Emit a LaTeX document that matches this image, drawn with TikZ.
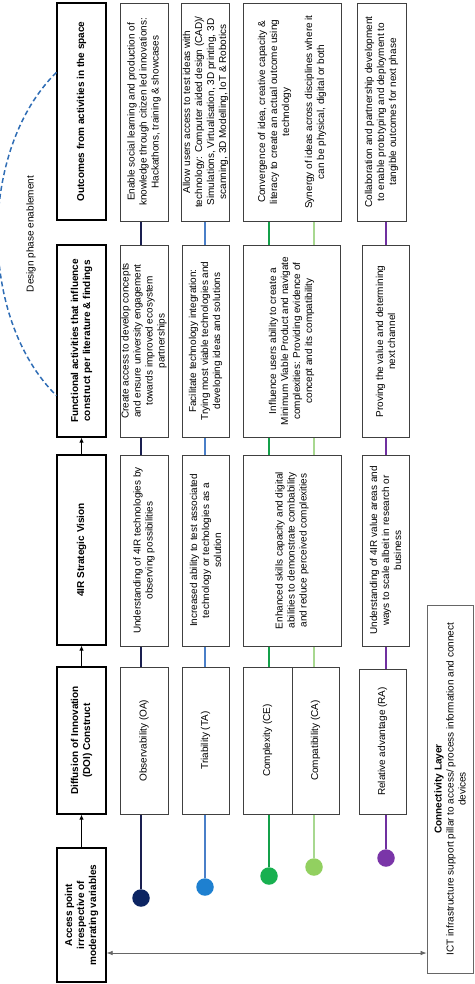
\documentclass[tikz,border=0pt]{standalone}
\usepackage{fontspec}
\setmainfont{Liberation Sans}
\usetikzlibrary{arrows.meta,backgrounds,calc}
\definecolor{cOAline}{HTML}{1A1F50}
\definecolor{cOAdot}{HTML}{0C2462}
\definecolor{cTAline}{HTML}{4A7FC8}
\definecolor{cTAdot}{HTML}{1E80D0}
\definecolor{cCEline}{HTML}{14A04A}
\definecolor{cCEdot}{HTML}{18B050}
\definecolor{cCAline}{HTML}{A8D890}
\definecolor{cCAdot}{HTML}{92D060}
\definecolor{cRAline}{HTML}{7030A0}
\definecolor{cRAdot}{HTML}{7A35A8}
\definecolor{arcblue}{HTML}{2F6DB5}
\tikzset{
  hdr/.style={draw=black, line width=1.2pt, rotate=90, fill=white,
    font=\bfseries\fontsize{10}{12}\selectfont, align=center, inner sep=2pt,
    minimum height=49pt},
  cbox/.style={draw=black!75, line width=0.8pt, rotate=90, fill=white,
    font=\fontsize{10}{12}\selectfont, align=center, inner sep=1pt},
  vline/.style={line width=2pt},
  dot/.style={circle, inner sep=0pt, minimum size=17.5pt},
  harrow/.style={line width=1.2pt, -{Latex[length=5pt,width=4.5pt]}},
  dblarrow/.style={line width=0.7pt, draw=black!60, {Latex[length=6pt,width=4.5pt]}-{Latex[length=6pt,width=4.5pt]}},
  arcline/.style={draw=arcblue, line width=1.5pt, dash pattern=on 5pt off 3pt},
  lbl/.style={rotate=90, font=\fontsize{10}{12}\selectfont, align=center}
}
\begin{document}
\begin{tikzpicture}[x=1pt,y=-1pt]
\useasboundingbox (0,0) rectangle (474,984);

% header column
\node[hdr, minimum width=217pt] (out0) at (81.5,111.5) {Outcomes from activities in the space};
\node[hdr, minimum width=192pt] (fun0) at (81.5,341) {Functional activities that influence\\construct per literature \& findings};
\node[hdr, minimum width=190pt] (vis0) at (81.5,550) {4IR Strategic Vision};
\node[hdr, minimum width=147pt] (doi0) at (81.5,740.5) {Diffusion of Innovation\\(DOI) Construct};
\node[hdr, minimum width=134pt] (acc0) at (81.5,915) {Access point\\irrespective of\\moderating variables};

\draw[harrow] (acc0.east) -- (doi0.west);
\draw[harrow] (doi0.east) -- (vis0.west);
\draw[harrow] (vis0.east) -- (fun0.west);

% OA column
\node[cbox, minimum width=218pt, minimum height=48pt] (outOA) at (144,112) {Enable social learning and production of\\knowledge through citizen led innovations:\\Hackathons, training \& showcases};
\node[cbox, minimum width=192pt, minimum height=48pt] (funOA) at (144,341) {Create access to develop concepts\\and ensure university engagement\\towards improved ecosystem\\partnerships};
\node[cbox, minimum width=191pt, minimum height=48pt] (visOA) at (144,550.5) {Understanding of 4IR technologies by\\observing possibilities};
\node[cbox, minimum width=147pt, minimum height=48pt] (doiOA) at (144,740.5) {Observability (OA)};

% TA column
\node[cbox, minimum width=218pt, minimum height=47pt] (outTA) at (205.5,112) {Allow users access to test ideas with\\technology: Computer aided design (CAD)/\\Simulations, Virtualisation, 3D printing, 3D\\scanning, 3D Modelling, IoT \& Robotics};
\node[cbox, minimum width=192pt, minimum height=47pt] (funTA) at (205.5,341) {Facilitate technology integration:\\Trying most viable technologies and\\developing ideas and solutions};
\node[cbox, minimum width=191pt, minimum height=47pt] (visTA) at (205.5,550.5) {Increased ability to test associated\\technology or techologies as a\\solution};
\node[cbox, minimum width=147pt, minimum height=47pt] (doiTA) at (205.5,740.5) {Triability (TA)};

% CE / CA column
\node[cbox, minimum width=218pt, minimum height=98pt] (outC) at (292,112) {Convergence of idea, creative capacity \&\\literacy to create an actual outcome using\\technology\\[11pt]Synergy of ideas across disciplines where it\\can be physical, digital or both};
\node[cbox, minimum width=192pt, minimum height=97pt] (funC) at (291.5,341) {Influence users ability to create a\\Minimum Viable Product and navigate\\complexities: Providing evidence of\\concept and its compatibility};
\node[cbox, minimum width=191pt, minimum height=98pt] (visC) at (292,550.5) {Enhanced skills capacity and digital\\abilities to demonstrate combability\\and reduce perceived complexities};
\node[cbox, minimum width=147pt, minimum height=49pt] (doiCE) at (267.5,740.5) {Complexity (CE)};
\node[cbox, minimum width=147pt, minimum height=47pt] (doiCA) at (315.5,740.5) {Compatibility (CA)};

% RA column
\node[cbox, minimum width=218pt, minimum height=49pt] (outRA) at (381.5,112) {Collaboration and partnership development\\to enable prototyping and deployment to\\tangible outcomes for next phase};
\node[cbox, minimum width=192pt, minimum height=47pt] (funRA) at (385.5,341.5) {Proving the value and determining\\next channel};
\node[cbox, minimum width=191pt, minimum height=47pt] (visRA) at (385.5,550.5) {Understanding of 4IR value areas and\\ways to scale albeit in research or\\business};
\node[cbox, minimum width=145pt, minimum height=47pt] (doiRA) at (382.5,741.5) {Relative advantage (RA)};

% connectivity layer
\node[cbox, draw=black!60, minimum width=368pt, minimum height=46pt] (conn) at (450,789) {\textbf{Connectivity Layer}\\ICT infrastructure support pillar to access/ process information and connect\\devices};

% dots
\node[dot, fill=cOAdot] (dOA) at (141,898) {};
\node[dot, fill=cTAdot] (dTA) at (205,887) {};
\node[dot, fill=cCEdot] (dCE) at (269,876) {};
\node[dot, fill=cCAdot] (dCA) at (314,867) {};
\node[dot, fill=cRAdot] (dRA) at (386,858) {};

\begin{scope}[on background layer]
\draw[vline, cOAline] (dOA) -- (dOA |- outOA.west);
\draw[vline, cTAline] (dTA) -- (dTA |- outTA.west);
\draw[vline, cCEline] (dCE) -- (dCE |- outC.west);
\draw[vline, cCAline] (dCA) -- (dCA |- outC.west);
\draw[vline, cRAline] (dRA) -- (dRA |- outRA.west);
\end{scope}

% double arrow
\coordinate (arrL) at ([yshift=-38pt]acc0.south);
\draw[dblarrow] (arrL) -- (arrL -| conn.north);

% design phase arc
\draw[arcline] ([yshift=-70pt]out0.north east) .. controls (-22,150) and (-22,318) .. ([yshift=42pt]fun0.north west);
\node[lbl] (dpe) at (31,234) {Design phase enablement};
\end{tikzpicture}
\end{document}
